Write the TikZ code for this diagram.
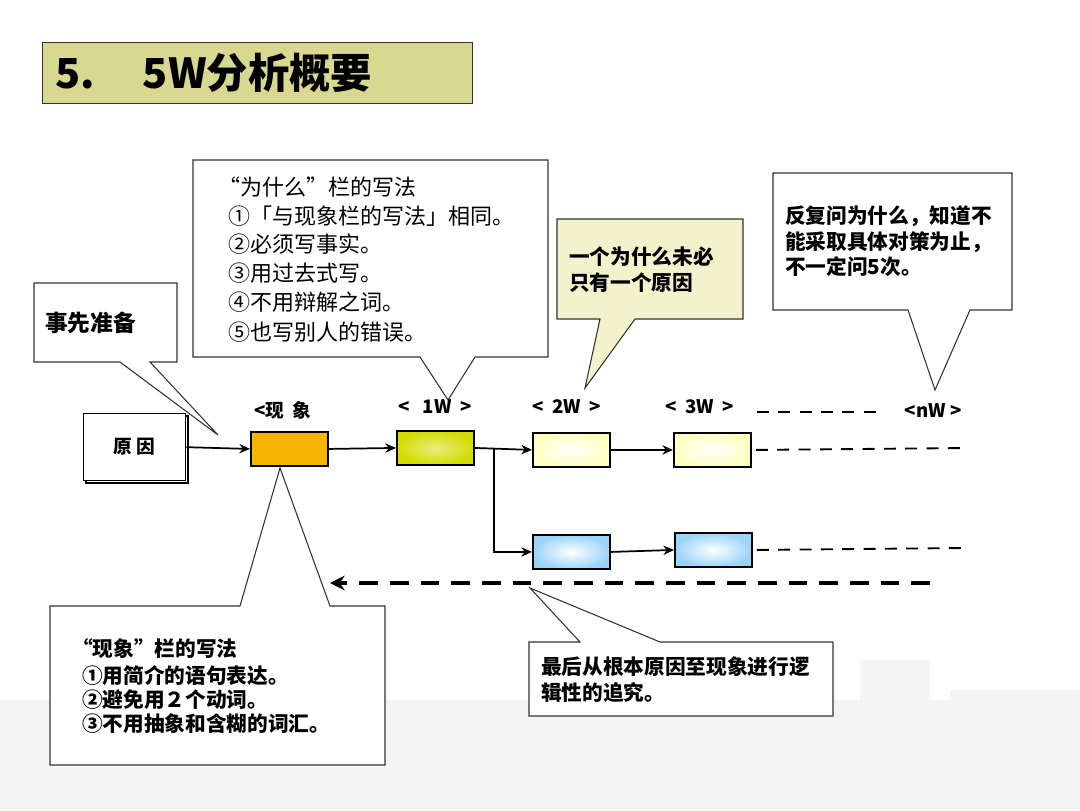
\documentclass[tikz,border=0pt]{standalone}
\usepackage{fontspec}
\setmainfont{Noto Sans CJK SC}
\usetikzlibrary{arrows.meta}
\definecolor{khaki}{HTML}{D8D890}
\definecolor{ora}{HTML}{F5B400}
\definecolor{ygr}{HTML}{D2DC00}
\definecolor{lyel}{HTML}{FFFFC0}
\definecolor{lblu}{HTML}{9AD4F8}
\definecolor{calloutY}{HTML}{F2F2CC}
\begin{document}
\begin{tikzpicture}[x=0.75pt,y=-0.75pt,
  call/.style={draw=black!80,line width=0.8pt,fill=white},
  wbox/.style={draw=black,line width=1.4pt,minimum width=57.75pt,minimum height=25.5pt,anchor=north west},
  arr/.style={-{Stealth[length=8pt,width=7pt]},line width=1.3pt},
  dsh/.style={dash pattern=on 9pt off 7pt,line width=1.4pt},
  t/.style={anchor=west,inner sep=0pt,font=\fontsize{16.5}{18}\selectfont},
  tb/.style={anchor=west,inner sep=0pt,font=\bfseries\fontsize{15.5}{18}\selectfont},
  lab/.style={inner sep=0pt,font=\bfseries\fontsize{14}{16}\selectfont}]
\useasboundingbox (0,0) rectangle (1080,810);
% faint background
\fill[gray!9] (0,700) rectangle (1080,810);
\fill[gray!9] (300,690) rectangle (360,810);
\fill[gray!9] (860,660) rectangle (930,810);
\fill[gray!9] (950,690) rectangle (1080,810);
% title
\node[draw=black!80,line width=1pt,fill=khaki,minimum width=322.5pt,minimum height=45.75pt,anchor=north west] (title) at (42,42) {};
\node[anchor=west,font=\bfseries\fontsize{31}{33}\selectfont,inner sep=0pt] (tt) at (55,73) {5.\hspace{36pt}5W分析概要};
% callouts
\draw[call] (34,283) -- (177,283) -- (177,362) -- (150,362) -- (218,435) -- (120,362) -- (34,362) -- cycle;
\node[tb,font=\bfseries\fontsize{17}{18}\selectfont] (prep) at (45,323) {事先准备};
\draw[call] (193,160) -- (548,160) -- (548,357) -- (475,357) -- (448,400) -- (420,357) -- (193,357) -- cycle;
\node[t] (w0) at (218,187) {“为什么”栏的写法};
\node[t] (w1) at (228,216) {①「与现象栏的写法」相同。};
\node[t] (w2) at (228,244) {②必须写事实。};
\node[t] (w3) at (228,273) {③用过去式写。};
\node[t] (w4) at (228,302) {④不用辩解之词。};
\node[t] (w5) at (228,332) {⑤也写别人的错误。};
\draw[call,fill=calloutY] (557,219) -- (743,219) -- (743,319) -- (635,319) -- (585,388) -- (600,319) -- (557,319) -- cycle;
\node[tb] (y1) at (569,257) {一个为什么未必};
\node[tb] (y2) at (569,283) {只有一个原因};
\draw[call] (773,173) -- (1012,173) -- (1012,310) -- (970,310) -- (935,390) -- (908,310) -- (773,310) -- cycle;
\node[tb] (r1) at (785,216) {反复问为什么，知道不};
\node[tb] (r2) at (785,242) {能采取具体对策为止，};
\node[tb] (r3) at (785,267) {不一定问5次。};
\draw[call] (50,606) -- (240,606) -- (280,468) -- (330,606) -- (385,606) -- (385,765) -- (50,765) -- cycle;
\node[tb] (p0) at (72,649) {“现象”栏的写法};
\node[tb] (p1) at (82,676) {①用简介的语句表达。};
\node[tb] (p2) at (82,700) {②避免用２个动词。};
\node[tb] (p3) at (82,724) {③不用抽象和含糊的词汇。};
\draw[call] (529,642) -- (580,642) -- (530,588) -- (660,642) -- (833,642) -- (833,716) -- (529,716) -- cycle;
\node[tb] (b1) at (541,667) {最后从根本原因至现象进行逻};
\node[tb] (b2) at (541,693) {辑性的追究。};
% labels
\node[lab] (l0) at (283,410) {<现\ \ 象};
\node[lab] (l1) at (435,407) {<\ \ \ 1W\ \ >};
\node[lab] (l2) at (567,407) {<\ \ 2W\ \ >};
\node[lab] (l3) at (700,407) {<\ \ 3W\ \ >};
\node[lab] (ln) at (933,411) {<nW\ >};
\coordinate (d1) at (757,412); \coordinate (d2) at (880,412);
\draw[dsh] (d1) -- (d2);
% boxes
\draw[line width=1pt,fill=white] (86,416) rectangle (188,483);
\node[draw=black,line width=1pt,fill=white,minimum width=76.5pt,minimum height=50.25pt,anchor=north west,font=\bfseries\fontsize{14}{16}\selectfont] (cause) at (83,413) {原\ 因};
\node[wbox,fill=ora] (ph) at (250,431) {};
\node[wbox,inner color=ygr!50,outer color=ygr] (w1b) at (396,430) {};
\node[wbox,inner color=white,outer color=lyel] (w2a) at (532,432) {};
\node[wbox,inner color=white,outer color=lyel] (w3a) at (673,432) {};
\node[wbox,inner color=white,outer color=lblu] (w2b) at (532,534) {};
\node[wbox,inner color=white,outer color=lblu] (w3b) at (674,532) {};
% arrows
\draw[arr] (cause.east) -- (ph.west);
\draw[arr] (ph.east) -- (w1b.west);
\draw[arr] (w1b.east) -- (w2a.west);
\coordinate (br) at (494,448);
\draw[arr] (br) |- (w2b.west);
\draw[arr] (w2a.east) -- (w3a.west);
\draw[arr] (w2b.east) -- (w3b.west);
\coordinate (e1) at (968,448); \coordinate (e2) at (965,548);
\draw[dsh] (w3a.east) ++(4,0) -- (e1);
\draw[dsh] (w3b.east) ++(4,0) -- (e2);
\coordinate (ba) at (930,583); \coordinate (bb) at (330,583);
\draw[dash pattern=on 14pt off 9pt,line width=2.4pt,-{Stealth[length=11pt,width=11pt]}] (ba) -- (bb);
\end{tikzpicture}
\end{document}
